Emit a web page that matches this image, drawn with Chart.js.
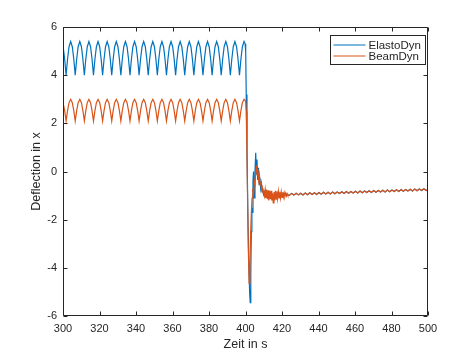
<!DOCTYPE html>
<html><head><meta charset="utf-8">
<script src="https://cdn.jsdelivr.net/npm/chart.js@4"></script>
<style>html,body{margin:0;padding:0;background:#fff;}#wrap{width:474px;height:355px;}</style>
</head><body><div id="wrap"><canvas id="c" width="474" height="355"></canvas></div>
<script>
// ---- data ----
const periodicTime = [
  300.0, 300.9,
  301.7, 302.5, 303.3, 304.2, 305.1, 305.9,
  306.7, 307.5, 308.3, 309.2, 310.1, 310.9,
  311.7, 312.5, 313.3, 314.2, 315.1, 315.9,
  316.7, 317.5, 318.3, 319.2, 320.1, 320.9,
  321.7, 322.5, 323.3, 324.2, 325.1, 325.9,
  326.7, 327.5, 328.3, 329.2, 330.1, 330.9,
  331.7, 332.5, 333.3, 334.2, 335.1, 335.9,
  336.7, 337.5, 338.3, 339.2, 340.1, 340.9,
  341.7, 342.5, 343.3, 344.2, 345.1, 345.9,
  346.7, 347.5, 348.3, 349.2, 350.1, 350.9,
  351.7, 352.5, 353.3, 354.2, 355.1, 355.9,
  356.7, 357.5, 358.3, 359.2, 360.1, 360.9,
  361.7, 362.5, 363.3, 364.2, 365.1, 365.9,
  366.7, 367.5, 368.3, 369.2, 370.1, 370.9,
  371.7, 372.5, 373.3, 374.2, 375.1, 375.9,
  376.7, 377.5, 378.3, 379.2, 380.1, 380.9,
  381.7, 382.5, 383.3, 384.2, 385.1, 385.9,
  386.7, 387.5, 388.3, 389.2, 390.1, 390.9,
  391.7, 392.5, 393.3, 394.2, 395.1, 395.9,
  396.7, 397.5, 398.3, 399.2, 399.8
];
const elastoPeriodic = [
  5.23, 4.67,
  4.0, 4.67, 5.18, 5.4, 5.18, 4.67,
  4.0, 4.67, 5.18, 5.4, 5.18, 4.67,
  4.0, 4.67, 5.18, 5.4, 5.18, 4.67,
  4.0, 4.67, 5.18, 5.4, 5.18, 4.67,
  4.0, 4.67, 5.18, 5.4, 5.18, 4.67,
  4.0, 4.67, 5.18, 5.4, 5.18, 4.67,
  4.0, 4.67, 5.18, 5.4, 5.18, 4.67,
  4.0, 4.67, 5.18, 5.4, 5.18, 4.67,
  4.0, 4.67, 5.18, 5.4, 5.18, 4.67,
  4.0, 4.67, 5.18, 5.4, 5.18, 4.67,
  4.0, 4.67, 5.18, 5.4, 5.18, 4.67,
  4.0, 4.67, 5.18, 5.4, 5.18, 4.67,
  4.0, 4.67, 5.18, 5.4, 5.18, 4.67,
  4.0, 4.67, 5.18, 5.4, 5.18, 4.67,
  4.0, 4.67, 5.18, 5.4, 5.18, 4.67,
  4.0, 4.67, 5.18, 5.4, 5.18, 4.67,
  4.0, 4.67, 5.18, 5.4, 5.18, 4.67,
  4.0, 4.67, 5.18, 5.4, 5.18, 4.67,
  4.0, 4.67, 5.18, 5.4, 5.18, 4.67,
  4.0, 4.67, 5.18, 5.4, 5.3
];
const beamPeriodic = [
  2.86, 2.53,
  2.1, 2.53, 2.86, 3.0, 2.86, 2.53,
  2.1, 2.53, 2.86, 3.0, 2.86, 2.53,
  2.1, 2.53, 2.86, 3.0, 2.86, 2.53,
  2.1, 2.53, 2.86, 3.0, 2.86, 2.53,
  2.1, 2.53, 2.86, 3.0, 2.86, 2.53,
  2.1, 2.53, 2.86, 3.0, 2.86, 2.53,
  2.1, 2.53, 2.86, 3.0, 2.86, 2.53,
  2.1, 2.53, 2.86, 3.0, 2.86, 2.53,
  2.1, 2.53, 2.86, 3.0, 2.86, 2.53,
  2.1, 2.53, 2.86, 3.0, 2.86, 2.53,
  2.1, 2.53, 2.86, 3.0, 2.86, 2.53,
  2.1, 2.53, 2.86, 3.0, 2.86, 2.53,
  2.1, 2.53, 2.86, 3.0, 2.86, 2.53,
  2.1, 2.53, 2.86, 3.0, 2.86, 2.53,
  2.1, 2.53, 2.86, 3.0, 2.86, 2.53,
  2.1, 2.53, 2.86, 3.0, 2.86, 2.53,
  2.1, 2.53, 2.86, 3.0, 2.86, 2.53,
  2.1, 2.53, 2.86, 3.0, 2.86, 2.53,
  2.1, 2.53, 2.86, 3.0, 2.86, 2.53,
  2.1, 2.53, 2.86, 3.0, 2.95
];
const elastoTransientTime = [
  400.1, 400.4, 400.8, 401.3, 401.8, 402.3, 402.6, 402.9, 403.2, 403.5,
  403.8, 404.1, 404.4, 404.8, 405.2, 405.6, 405.9, 406.3, 406.7, 407.1,
  407.5, 407.9, 408.3, 408.7, 409.1, 409.5, 409.9, 410.3, 410.8, 411.3,
  411.8, 412.5, 413.5, 414.5, 415.5, 416.5, 417.5, 418.5, 419.5, 420.5,
  421.5, 422.5, 423.2
];
const elastoTransient = [
  5.0, 3.2, 1.0, -1.8, -3.8, -5.1, -5.45, -4.2, -2.5, -1.5,
  -1.7, -0.4, 0.0, -1.1, 0.0, 0.78, -0.1, 0.5, -0.35, 0.15,
  -0.55, -0.25, -0.7, -0.5, -0.85, -0.7, -0.95, -0.85, -1.05, -0.95,
  -1.05, -0.98, -1.02, -0.97, -1.0, -0.96, -0.99, -0.95, -0.98, -0.94,
  -0.97, -0.93, -0.97
];
const beamTransientTime = [
  400.1, 400.4, 400.8, 401.2, 401.6, 402.0, 402.4, 402.8, 403.2, 403.6,
  404.0, 404.4, 404.8, 405.2, 405.6, 406.0, 406.4, 406.8, 407.2, 407.6,
  408.0, 408.4, 408.8, 409.2, 409.6, 410.0, 410.4, 410.8, 411.2, 411.6,
  412.0, 412.4, 412.8, 413.2, 413.6, 414.0, 414.4, 414.8, 415.2, 415.6,
  416.0, 416.4, 416.8, 417.2, 417.6, 418.0, 418.4, 418.8, 419.2, 419.6,
  420.0, 420.4, 420.8, 421.2, 421.6, 422.0, 422.4, 422.8, 423.2
];
const beamTransient = [
  2.9, 2.5, 0.8, -1.5, -3.4, -4.65, -3.9, -2.6, -1.7, -1.1,
  -0.7, -1.0, -0.4, -0.5, 0.0, 0.25, -0.15, 0.1, -0.35, -0.15,
  -0.55, -0.45, -0.75, -0.65, -0.9, -0.8, -1.0, -0.75, -1.1, -0.75,
  -1.15, -0.78, -1.2, -0.8, -1.15, -0.8, -1.2, -0.9, -1.3, -0.85,
  -1.2, -0.8, -1.15, -0.82, -1.12, -0.82, -1.1, -0.84, -1.1, -0.85,
  -1.08, -0.86, -1.05, -0.88, -1.03, -0.9, -1.02, -0.92, -1.0
];
const tailTime = [
  424.0, 425.25, 426.5, 427.75, 429.0, 430.25, 431.5, 432.75, 434.0, 435.25,
  436.5, 437.75, 439.0, 440.25, 441.5, 442.75, 444.0, 445.25, 446.5, 447.75,
  449.0, 450.25, 451.5, 452.75, 454.0, 455.25, 456.5, 457.75, 459.0, 460.25,
  461.5, 462.75, 464.0, 465.25, 466.5, 467.75, 469.0, 470.25, 471.5, 472.75,
  474.0, 475.25, 476.5, 477.75, 479.0, 480.25, 481.5, 482.75, 484.0, 485.25,
  486.5, 487.75, 489.0, 490.25, 491.5, 492.75, 494.0, 495.25, 496.5, 497.75,
  499.0, 500.0
];
const tailValues = [
  -0.99, -0.91, -0.98, -0.90, -0.97, -0.90, -0.97, -0.89, -0.96, -0.88,
  -0.95, -0.88, -0.95, -0.87, -0.94, -0.86, -0.93, -0.86, -0.93, -0.85,
  -0.92, -0.85, -0.91, -0.84, -0.91, -0.83, -0.90, -0.83, -0.89, -0.82,
  -0.89, -0.81, -0.88, -0.81, -0.87, -0.80, -0.87, -0.79, -0.86, -0.79,
  -0.85, -0.78, -0.85, -0.77, -0.84, -0.77, -0.83, -0.76, -0.83, -0.75,
  -0.82, -0.75, -0.81, -0.74, -0.81, -0.73, -0.80, -0.73, -0.79, -0.72,
  -0.79, -0.75
];
const xTicks = [300, 320, 340, 360, 380, 400, 420, 440, 460, 480, 500];
const yTicks = [-6, -4, -2, 0, 2, 4, 6];
const seriesNames = ['ElastoDyn', 'BeamDyn'];
const seriesColors = ['#0072BD', '#D95319'];
const xTitle = 'Zeit in s';
const yTitle = 'Deflection in x';

// ---- build datasets ----
function toPoints(ts, vs) { return ts.map((t, i) => ({x: t, y: vs[i]})); }
const elastoData = [].concat(
  toPoints(periodicTime, elastoPeriodic),
  toPoints(elastoTransientTime, elastoTransient),
  toPoints(tailTime, tailValues));
const beamData = [].concat(
  toPoints(periodicTime, beamPeriodic),
  toPoints(beamTransientTime, beamTransient),
  toPoints(tailTime, tailValues));

const FONT = '"Liberation Sans", Arial, Helvetica, sans-serif';
const AX = '#262626';

const framePlugin = {
  id: 'frame',
  afterDatasetsDraw(chart) {
    const {ctx, chartArea: a, scales: {x, y}} = chart;
    const L = Math.round(a.left) + 0.5, R = Math.round(a.right) - 0.5;
    const T = Math.round(a.top) + 0.5, B = Math.round(a.bottom) - 0.5;
    const tl = 4;
    ctx.save();
    ctx.strokeStyle = AX;
    ctx.lineWidth = 1;
    ctx.beginPath();
    ctx.rect(L, T, R - L, B - T);
    x.ticks.forEach(t => {
      const px = Math.round(x.getPixelForValue(t.value)) + 0.5;
      ctx.moveTo(px, B); ctx.lineTo(px, B - tl);
      ctx.moveTo(px, T); ctx.lineTo(px, T + tl);
    });
    y.ticks.forEach(t => {
      const py = Math.round(y.getPixelForValue(t.value)) + 0.5;
      ctx.moveTo(L, py); ctx.lineTo(L + tl, py);
      ctx.moveTo(R, py); ctx.lineTo(R - tl, py);
    });
    ctx.stroke();
    ctx.restore();
  },
  afterDraw(chart) {
    const {ctx, chartArea: a} = chart;
    const w = 95, h = 29;
    const bx = Math.round(a.right) - 3 - w + 0.5, by = Math.round(a.top) + 8 + 0.5;
    ctx.save();
    ctx.fillStyle = '#fff';
    ctx.fillRect(bx, by, w, h);
    ctx.strokeStyle = AX;
    ctx.lineWidth = 1;
    ctx.strokeRect(bx, by, w, h);
    ctx.font = '11.5px ' + FONT;
    ctx.textBaseline = 'middle';
    ctx.textAlign = 'left';
    seriesNames.forEach((name, i) => {
      const ry = by + 9.5 + i * 11;
      ctx.strokeStyle = seriesColors[i];
      ctx.lineWidth = 1.2;
      ctx.beginPath();
      ctx.moveTo(bx + 3, ry); ctx.lineTo(bx + 35, ry);
      ctx.stroke();
      ctx.fillStyle = AX;
      ctx.fillText(name, bx + 38, ry + 0.5);
    });
    ctx.restore();
  }
};

new Chart(document.getElementById('c'), {
  type: 'line',
  data: {
    datasets: [
      {label: seriesNames[0], data: elastoData, borderColor: seriesColors[0], order: 2},
      {label: seriesNames[1], data: beamData, borderColor: seriesColors[1], order: 1}
    ]
  },
  options: {
    responsive: false,
    animation: false,
    devicePixelRatio: 1,
    layout: {padding: {left: 0, right: 46, top: 27, bottom: 0}},
    plugins: {legend: {display: false}, tooltip: {enabled: false}},
    elements: {point: {radius: 0}, line: {borderWidth: 1.2, tension: 0}},
    scales: {
      x: {
        type: 'linear', min: 300, max: 500,
        grid: {display: false, drawTicks: false},
        border: {display: false},
        ticks: {color: AX, font: {family: FONT, size: 11}, padding: 6, maxRotation: 0, autoSkip: false},
        afterBuildTicks(s) { s.ticks = xTicks.map(v => ({value: v})); },
        afterFit(s) { s.height = 39; },
        title: {display: true, text: xTitle, color: AX, font: {family: FONT, size: 12.5}, padding: {top: 0, bottom: 3}}
      },
      y: {
        type: 'linear', min: -6, max: 6,
        grid: {display: false, drawTicks: false},
        border: {display: false},
        ticks: {color: AX, font: {family: FONT, size: 11}, padding: 6, autoSkip: false},
        afterBuildTicks(s) { s.ticks = yTicks.map(v => ({value: v})); },
        afterFit(s) { s.width = 63; },
        title: {display: true, text: yTitle, color: AX, font: {family: FONT, size: 12.5}, padding: {top: 29, bottom: 0}}
      }
    }
  },
  plugins: [framePlugin]
});
</script>
</body></html>
